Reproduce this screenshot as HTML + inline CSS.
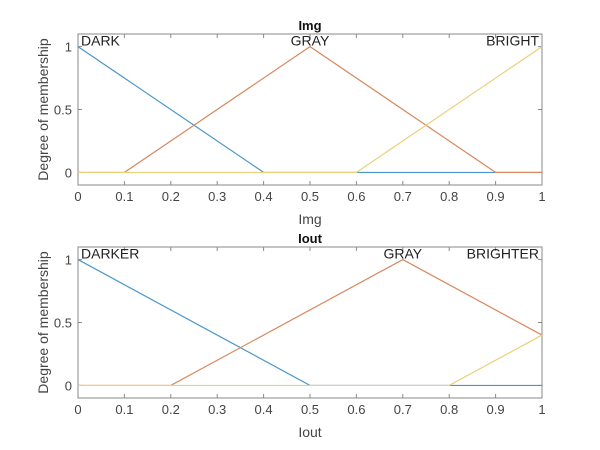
<!DOCTYPE html>
<html><head><meta charset="utf-8"><style>
html,body{margin:0;padding:0;background:#fff}
svg{display:block;font-family:"Liberation Sans",Arial,sans-serif}
</style></head><body>
<svg id="chart" width="600" height="450" viewBox="0 0 600 450"></svg>
<script>
const xTicks=[0,0.1,0.2,0.3,0.4,0.5,0.6,0.7,0.8,0.9,1];
const yTicks=[0,0.5,1];
const yTickLabels=["0","0.5","1"];
// Img membership functions (x breakpoints, y values)
const imgDarkX=[0,0.4,1], imgDarkY=[1,0,0];
const imgGrayX=[0,0.1,0.5,0.9,1], imgGrayY=[0,0,1,0,0];
const imgBrightX=[0,0.6,1], imgBrightY=[0,0,1];
// Iout membership functions
const ioutDarkX=[0,0.5,1], ioutDarkY=[1,0,0];
const ioutGrayX=[0,0.2,0.7,1], ioutGrayY=[0,0,1,0.4];
const ioutBrightX=[0,0.8,1], ioutBrightY=[0,0,0.4];
const imgLabels=["DARK","GRAY","BRIGHT"];
const imgLabelPos=[0,0.5,1];
const ioutLabels=["DARKER","GRAY","BRIGHTER"];
const ioutLabelPos=[0,0.7,1];

const NS="http://www.w3.org/2000/svg";
const svg=document.getElementById('chart');
const colors=["#4b97c9","#d9875e","#ecd07a"];
function mk(tag,attrs,parent){const e=document.createElementNS(NS,tag);for(const k in attrs)e.setAttribute(k,attrs[k]);(parent||svg).appendChild(e);return e;}

function panel(id,top,bottom,title,xlabel,series,labels,labelPos){
  const L=78,R=542;
  const ylo=-0.1,yhi=1.1;
  const sx=v=>L+(R-L)*v;
  const sy=v=>bottom-(bottom-top)*(v-ylo)/(yhi-ylo);
  const g=mk('g',{});
  
  
  const box=mk('rect',{x:L,y:top,width:R-L,height:bottom-top,fill:'none',stroke:'#8a8a8a','stroke-width':1},g);
  
  
  xTicks.forEach(t=>{
    const x=sx(t);
    mk('line',{x1:x,y1:bottom,x2:x,y2:bottom-4,stroke:'#8a8a8a'},g);
    mk('line',{x1:x,y1:top,x2:x,y2:top+4,stroke:'#8a8a8a'},g);
    const tx=mk('text',{x:x,y:bottom+16,'text-anchor':'middle','font-size':13,fill:'#444'},g);
    tx.textContent=String(t);
    
    
  });
  yTicks.forEach((t,i)=>{
    const y=sy(t);
    mk('line',{x1:L,y1:y,x2:L+4,y2:y,stroke:'#8a8a8a'},g);
    mk('line',{x1:R,y1:y,x2:R-4,y2:y,stroke:'#8a8a8a'},g);
    const tx=mk('text',{x:L-6,y:y+5,'text-anchor':'end','font-size':13,fill:'#444'},g);
    tx.textContent=yTickLabels[i];
    
    
  });
  series.forEach((s,i)=>{
    const pts=s[0].map((xv,j)=>sx(xv)+','+sy(s[1][j])).join(' ');
    const pl=mk('polyline',{points:pts,fill:'none',stroke:colors[i],'stroke-width':1.2},g);
    
    
  });
  labels.forEach((lb,i)=>{
    const p=labelPos[i];
    const anchor=p===0?'start':(p===1?'end':'middle');
    const x=p===0?sx(p)+3:(p===1?sx(p)-3:sx(p));
    const tx=mk('text',{x:x,y:sy(1)-1,'text-anchor':anchor,'font-size':14,fill:'#222'},g);
    tx.textContent=lb;
    
    
  });
  const tt=mk('text',{x:(L+R)/2,y:top-4,'text-anchor':'middle','font-size':13,'font-weight':'bold',fill:'#111'},g);
  tt.textContent=title;
  
  
  const xl=mk('text',{x:(L+R)/2,y:bottom+39,'text-anchor':'middle','font-size':14,fill:'#444'},g);
  xl.textContent=xlabel;
  
  
  const cy=(top+bottom)/2;
  const yl=mk('text',{x:48,y:cy,'text-anchor':'middle','font-size':14,fill:'#444',transform:'rotate(-90 48 '+cy+')'},g);
  yl.textContent='Degree of membership';
  
  
}
panel('img',34,185,'Img','Img',[[imgDarkX,imgDarkY],[imgGrayX,imgGrayY],[imgBrightX,imgBrightY]],imgLabels,imgLabelPos);
panel('iout',247,398,'Iout','Iout',[[ioutDarkX,ioutDarkY],[ioutGrayX,ioutGrayY],[ioutBrightX,ioutBrightY]],ioutLabels,ioutLabelPos);
</script>
</body></html>
